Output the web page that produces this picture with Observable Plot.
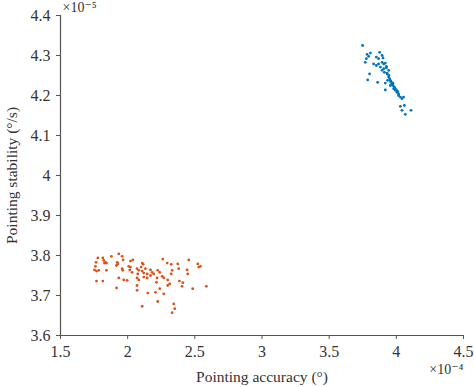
<!DOCTYPE html>
<html>
<head>
<meta charset="utf-8">
<script src="https://cdn.jsdelivr.net/npm/d3@7"></script>
<script src="https://cdn.jsdelivr.net/npm/@observablehq/plot@0.6"></script>
<style>
  body { margin: 0; background: #fff; }
</style>
</head>
<body>
<div id="chart"></div>
<script>
// Pointing accuracy in units of 1e-4 deg, pointing stability in units of 1e-5 deg/s
const orangeX = [1.778,1.815,1.822,1.835,1.842,1.827,1.765,1.760,1.753,1.768,1.785,1.842,1.879,1.934,1.959,1.966,1.922,1.917,1.927,1.959,1.964,2.008,2.021,2.016,2.033,2.021,2.038,2.070,2.083,2.075,2.100,2.108,2.120,2.108,2.115,2.132,2.145,2.170,2.182,2.194,2.224,2.239,2.257,2.261,2.294,2.324,2.331,2.324,2.373,2.380,2.443,2.455,2.447,2.522,2.529,2.542,1.768,1.815,1.934,1.971,1.996,2.070,2.083,2.120,2.145,2.170,2.219,2.269,2.298,2.214,2.313,2.298,2.385,2.410,2.405,2.239,2.207,2.269,2.150,2.070,2.070,1.917,2.586,2.484,2.224,2.108,2.343,2.350,2.331];
const orangeY = [3.794,3.794,3.788,3.783,3.781,3.781,3.783,3.773,3.764,3.761,3.763,3.763,3.798,3.804,3.798,3.789,3.783,3.775,3.779,3.767,3.763,3.773,3.771,3.764,3.758,3.786,3.789,3.767,3.763,3.754,3.771,3.761,3.756,3.781,3.778,3.767,3.754,3.764,3.758,3.754,3.763,3.758,3.748,3.791,3.781,3.778,3.763,3.754,3.779,3.767,3.764,3.789,3.754,3.779,3.771,3.773,3.736,3.736,3.744,3.739,3.738,3.744,3.739,3.746,3.744,3.750,3.744,3.744,3.739,3.733,3.729,3.725,3.736,3.732,3.723,3.717,3.708,3.704,3.706,3.713,3.725,3.719,3.723,3.717,3.685,3.673,3.679,3.667,3.657];
const blueX = [3.749,3.782,3.777,3.794,3.769,3.807,3.876,3.894,3.851,3.868,3.901,3.831,3.851,3.868,3.894,3.906,3.918,3.881,3.906,3.926,3.911,3.931,3.943,3.955,3.968,3.975,3.980,3.993,4.005,4.017,4.030,4.042,4.054,3.801,3.787,3.861,3.918,3.918,4.030,4.060,4.109,4.042,4.067,3.931,3.950,3.961,3.985,4.000,4.017,3.955,3.975,3.943,3.926,3.894,3.935,3.960,3.970,3.990,3.945,4.010];
const blueY = [4.325,4.303,4.292,4.298,4.283,4.306,4.308,4.300,4.296,4.292,4.294,4.279,4.275,4.279,4.283,4.279,4.281,4.271,4.267,4.269,4.258,4.256,4.246,4.238,4.229,4.225,4.217,4.213,4.208,4.204,4.196,4.192,4.196,4.254,4.239,4.233,4.231,4.214,4.173,4.175,4.163,4.163,4.153,4.254,4.242,4.233,4.221,4.214,4.200,4.225,4.231,4.263,4.273,4.263,4.238,4.235,4.227,4.218,4.250,4.210];
const xTicks = [1.5, 2, 2.5, 3, 3.5, 4, 4.5];
const yTicks = [3.6, 3.7, 3.8, 3.9, 4, 4.1, 4.2, 4.3, 4.4];
const xLabel = "Pointing accuracy (°)";
const yLabel = "Pointing stability (°/s)";
const xExp = "×10⁻⁴";
const yExp = "×10⁻⁵";

const orange = orangeX.map((x, i) => ({x, y: orangeY[i]}));
const blue = blueX.map((x, i) => ({x, y: blueY[i]}));
const axisColor = "#555";

const plot = Plot.plot({
  width: 474,
  height: 387,
  marginLeft: 60,
  marginRight: 11,
  marginTop: 15,
  marginBottom: 52,
  style: {fontFamily: "'Liberation Serif', 'DejaVu Serif', serif", fontSize: "16px", color: "#333", background: "#fff"},
  x: {domain: [1.5, 4.5]},
  y: {domain: [3.6, 4.4]},
  marks: [
    Plot.axisX({ticks: xTicks, tickSize: 4, tickPadding: 6, label: null, stroke: axisColor, fill: "#333", fontSize: 16, tickFormat: d => String(d)}),
    Plot.axisY({ticks: yTicks, tickSize: 4, tickPadding: 6, label: null, stroke: axisColor, fill: "#333", fontSize: 16, tickFormat: d => String(d)}),
    Plot.ruleX([1.5], {stroke: axisColor, strokeWidth: 1.2}),
    Plot.ruleY([3.6], {stroke: axisColor, strokeWidth: 1.2}),
    Plot.dot(orange, {x: "x", y: "y", r: 1.4, fill: "#D95319", stroke: null}),
    Plot.dot(blue, {x: "x", y: "y", r: 1.4, fill: "#0072BD", stroke: null}),
    Plot.text([xLabel], {frameAnchor: "bottom", dy: 42, lineAnchor: "middle", text: d => d, fontSize: 15.5, fill: "#333"}),
    Plot.text([yLabel], {frameAnchor: "left", dx: -48, rotate: -90, textAnchor: "middle", lineAnchor: "middle", text: d => d, fontSize: 15.5, fill: "#333"}),
    Plot.text([xExp], {frameAnchor: "bottom-right", dy: 34, textAnchor: "end", lineAnchor: "middle", text: d => d, fontSize: 14, fill: "#333"}),
    Plot.text([yExp], {frameAnchor: "top-left", dx: 2, dy: -8, textAnchor: "start", lineAnchor: "middle", text: d => d, fontSize: 14, fill: "#333"})
  ]
});
document.getElementById("chart").appendChild(plot);
</script>
</body>
</html>
